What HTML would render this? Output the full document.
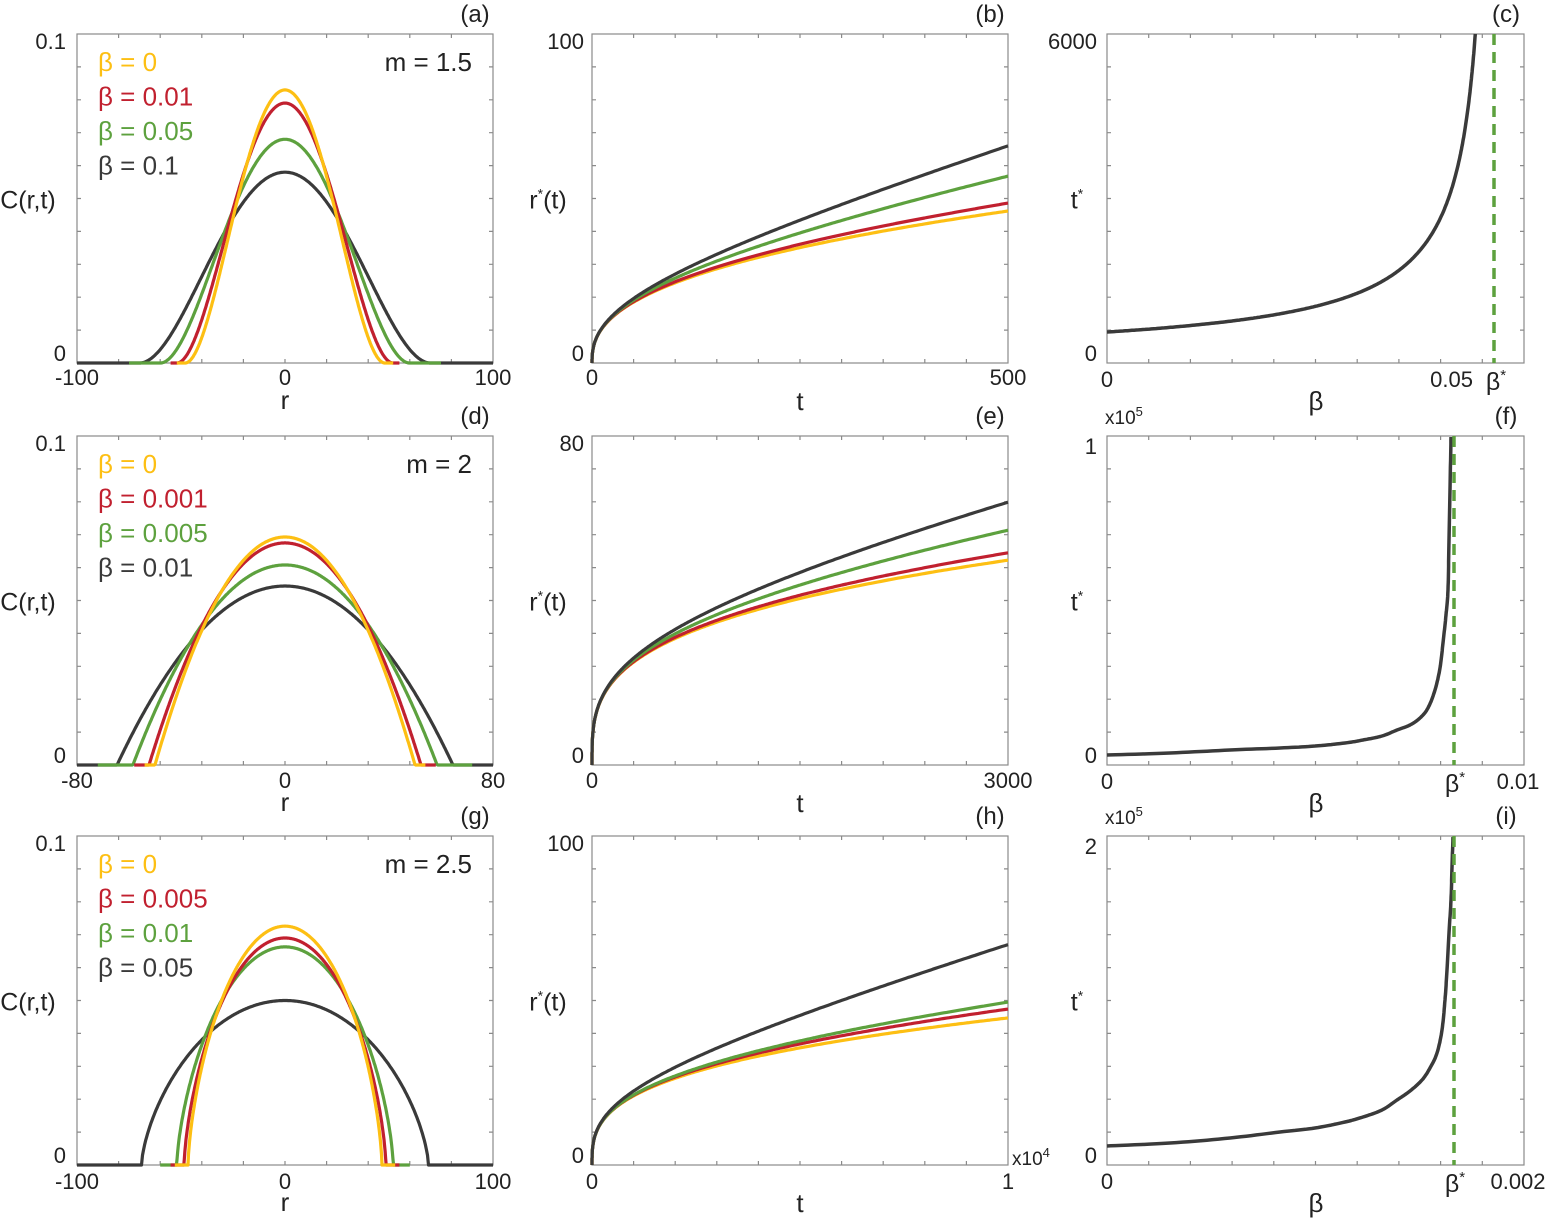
<!DOCTYPE html>
<html><head><meta charset="utf-8">
<style>
html,body{margin:0;padding:0;background:#fff;}
svg{display:block;font-family:"Liberation Sans",sans-serif;}
</style></head>
<body>
<svg id="s" width="1550" height="1220" viewBox="0 0 1550 1220" xmlns="http://www.w3.org/2000/svg"></svg>
<script>
const S=document.getElementById('s');
let out='';
const Y='#FDBF13',R='#C1202F',G='#5DA13E',K='#3A3A3A';
const cols=[[77,493],[592,1008],[1107,1524]];
const rows=[[34,363],[436,765],[836,1165]];
function txt(x,y,t,sz,anc,col){out+=`<text x="${x}" y="${y}" font-size="${sz}" text-anchor="${anc||'middle'}" fill="${col||'#222'}">${t}</text>`;}
function box(c,r){
  const [x0,x1]=cols[c],[y0,y1]=rows[r];
  out+=`<rect x="${x0}" y="${y0}" width="${x1-x0}" height="${y1-y0}" fill="none" stroke="#8a8a8a" stroke-width="1.2"/>`;
  let d='';
  for(let i=1;i<10;i++){
    const x=x0+(x1-x0)*i/10, y=y0+(y1-y0)*i/10;
    d+=`M${x} ${y1}v-4M${x} ${y0}v4M${x0} ${y}h4M${x1} ${y}h-4`;
  }
  out+=`<path d="${d}" stroke="#8a8a8a" stroke-width="1.2" fill="none"/>`;
}
function path(pts,col,w,extra){
  out+=`<path d="M${pts.map(p=>p[0].toFixed(1)+' '+p[1].toFixed(1)).join('L')}" fill="none" stroke="${col}" stroke-width="${w||3.2}" stroke-linejoin="round" ${extra||''}/>`;
}
for(let c=0;c<3;c++)for(let r=0;r<3;r++)box(c,r);

function profile(r,xmax,ymax,curves){
  const [x0,x1]=cols[0],[y0,y1]=rows[r];
  const X=v=>x0+(v+xmax)/(2*xmax)*(x1-x0), Yf=v=>y1-v/ymax*(y1-y0);
  curves.forEach(([col,peak,Rr,expo,dom])=>{
    const pts=[];
    for(let i=0;i<=400;i++){
      const v=-dom+2*dom*i/400;
      const q=1-(v/Rr)*(v/Rr);
      const c=q>0?peak*Math.pow(q,expo):0;
      pts.push([X(v),Yf(c)]);
    }
    path(pts,col);
  });
}
profile(0,100,0.1,[[K,0.058,70,2,100],[G,0.068,60,2,75],[R,0.079,52,2,55],[Y,0.083,48,2,52]]);
profile(1,80,0.1,[[K,0.0544,64.6,1,80],[G,0.0608,58.5,1,72],[R,0.0675,52.3,1,58],[Y,0.0693,50,1,54]]);
profile(2,100,0.1,[[K,0.050,69,2/3,100],[G,0.0663,52,2/3,60],[R,0.069,48.5,2/3,55],[Y,0.0726,46.6,2/3,53]]);

function growth(r,ymax,vref,finals){
  const [x0,x1]=cols[1],[y0,y1]=rows[r];
  const fy=finals[0][1];
  const p=Math.log10(fy/vref);
  finals.forEach(([col,fin])=>{
    const c=fin/fy-1;
    const pts=[];
    for(let i=0;i<=300;i++){
      const s=Math.pow(i/300,2.2);
      const v=fy*Math.pow(s,p)*(1+c*Math.pow(s,0.85));
      pts.push([x0+s*(x1-x0),y1-v/ymax*(y1-y0)]);
    }
    path(pts,col);
  });
}
growth(0,100,18.5,[[Y,46.2],[R,48.6],[G,56.8],[K,66]]);
growth(1,80,25,[[Y,49.8],[R,51.6],[G,57.1],[K,63.9]]);
growth(2,100,21,[[Y,44.7],[R,47.4],[G,49.5],[K,67]]);

function blow(r,xs,h0,k){
  const [x0,x1]=cols[2],[y0,y1]=rows[r];
  const D=xs-x0; const pts=[];
  for(let i=0;i<=500;i++){
    const x=x0+(xs-x0)*(1-Math.pow(1-i/500,3));
    const d=xs-x;
    const h=h0*Math.pow(D/d,k);
    if(h>y1-y0){pts.push([xs-D*Math.pow(h0/(y1-y0),1/k),y0]);break;}
    pts.push([x,y1-h]);
  }
  path(pts,K,3.5);
  out+=`<line x1="${xs}" y1="${y0}" x2="${xs}" y2="${y1}" stroke="${G}" stroke-width="3.5" stroke-dasharray="11,7"/>`;
}
blow(0,1494,31,0.78);
function cr(p){
  const o=[];
  for(let i=0;i<p.length-1;i++){
    const a=p[Math.max(0,i-1)],b=p[i],c=p[i+1],d=p[Math.min(p.length-1,i+2)];
    for(let j=0;j<10;j++){
      const t=j/10,t2=t*t,t3=t2*t;
      o.push([0,1].map(k=>0.5*((2*b[k])+(-a[k]+c[k])*t+(2*a[k]-5*b[k]+4*c[k]-d[k])*t2+(-a[k]+3*b[k]-3*c[k]+d[k])*t3)));
    }
  }
  o.push(p[p.length-1]);return o;
}
function poly(pts,r,xs){
  path(cr(pts),K,3.5);
  out+=`<line x1="${xs}" y1="${rows[r][0]}" x2="${xs}" y2="${rows[r][1]}" stroke="${G}" stroke-width="3.5" stroke-dasharray="11,7"/>`;
}
poly([[1107,755],[1170,753],[1230,750],[1280,748],[1315,746],[1345,743],[1363,740],[1382,736],[1397,730],[1410,725],[1420,718],[1428,708],[1435,690],[1440,668],[1443,643],[1446,615],[1448,590],[1449,540],[1450,490],[1451,437]],1,1454);
poly([[1107,1146],[1170,1143],[1230,1138],[1280,1132],[1315,1128],[1345,1122],[1363,1117],[1382,1110],[1397,1100],[1410,1091],[1422,1080],[1430,1068],[1437,1053],[1442,1030],[1445,1000],[1447,970],[1449,933],[1451,900],[1452,867],[1453,837]],2,1454);

const F=22;
for(let r=0;r<3;r++){txt(66,rows[r][0]+15,'0.1',F,'end');txt(66,rows[r][1]-2,'0',F,'end');}
txt(77,rows[0][1]+22,'-100',F);txt(285,rows[0][1]+22,'0',F);txt(493,rows[0][1]+22,'100',F);
txt(77,rows[1][1]+23,'-80',F);txt(285,rows[1][1]+23,'0',F);txt(493,rows[1][1]+23,'80',F);
txt(77,rows[2][1]+24,'-100',F);txt(285,rows[2][1]+24,'0',F);txt(493,rows[2][1]+24,'100',F);
txt(584,rows[0][0]+15,'100',F,'end');txt(584,rows[0][1]-2,'0',F,'end');
txt(584,rows[1][0]+15,'80',F,'end');txt(584,rows[1][1]-2,'0',F,'end');
txt(584,rows[2][0]+15,'100',F,'end');txt(584,rows[2][1]-2,'0',F,'end');
txt(592,rows[0][1]+22,'0',F);txt(1008,rows[0][1]+22,'500',F);
txt(592,rows[1][1]+23,'0',F);txt(1008,rows[1][1]+23,'3000',F);
txt(592,rows[2][1]+24,'0',F);txt(1008,rows[2][1]+24,'1',F);
out+=`<text x="1012" y="${rows[2][1]}" font-size="19" fill="#222">x10<tspan font-size="13" dy="-8">4</tspan></text>`;
txt(1097,rows[0][0]+15,'6000',F,'end');txt(1097,rows[0][1]-2,'0',F,'end');
txt(1097,rows[1][0]+18,'1',F,'end');txt(1097,rows[1][1]-2,'0',F,'end');
txt(1097,rows[2][0]+18,'2',F,'end');txt(1097,rows[2][1]-2,'0',F,'end');
out+=`<text x="1105" y="${rows[1][0]-12}" font-size="19" fill="#222">x10<tspan font-size="13" dy="-8">5</tspan></text>`;
out+=`<text x="1105" y="${rows[2][0]-12}" font-size="19" fill="#222">x10<tspan font-size="13" dy="-8">5</tspan></text>`;
txt(1107,rows[0][1]+24,'0',F);txt(1473,rows[0][1]+24,'0.05',F,'end');
txt(1107,rows[1][1]+24,'0',F);txt(1518,rows[1][1]+24,'0.01',F);
txt(1107,rows[2][1]+24,'0',F);txt(1518,rows[2][1]+24,'0.002',F);
[[0,1496],[1,1455],[2,1455]].forEach(([r,x])=>{
  out+=`<text x="${x}" y="${rows[r][1]+27}" font-size="25" text-anchor="middle" fill="#222">β<tspan font-size="15" dy="-10">*</tspan></text>`;
});
for(let r=0;r<3;r++){
  const yb=rows[r][1]+47, ym=(rows[r][0]+rows[r][1])/2+10;
  txt(285,yb-1,'r',26);txt(800,yb,'t',26);txt(1316,yb,'β',26);
  txt(28,ym,'C(r,t)',25);
  out+=`<text x="548" y="${ym}" font-size="25" text-anchor="middle" fill="#222">r<tspan font-size="14" dy="-10">*</tspan><tspan dy="10">(t)</tspan></text>`;
  out+=`<text x="1077" y="${ym}" font-size="25" text-anchor="middle" fill="#222">t<tspan font-size="14" dy="-10">*</tspan></text>`;
}
const L=[['(a)','(b)','(c)'],['(d)','(e)','(f)'],['(g)','(h)','(i)']];
for(let r=0;r<3;r++)for(let c=0;c<3;c++){
  txt(cols[c][1]-18,rows[r][0]-12,L[r][c],24);
}
const legs=[['0','0.01','0.05','0.1','m = 1.5'],['0','0.001','0.005','0.01','m = 2'],['0','0.005','0.01','0.05','m = 2.5']];
const lc=[Y,R,G,K];
for(let r=0;r<3;r++){
  for(let i=0;i<4;i++)txt(98,rows[r][0]+37+34.5*i,'β = '+legs[r][i],26,'start',lc[i]);
  txt(472,rows[r][0]+37,legs[r][4],26,'end','#222');
}
S.innerHTML=out;
</script>
</body></html>
